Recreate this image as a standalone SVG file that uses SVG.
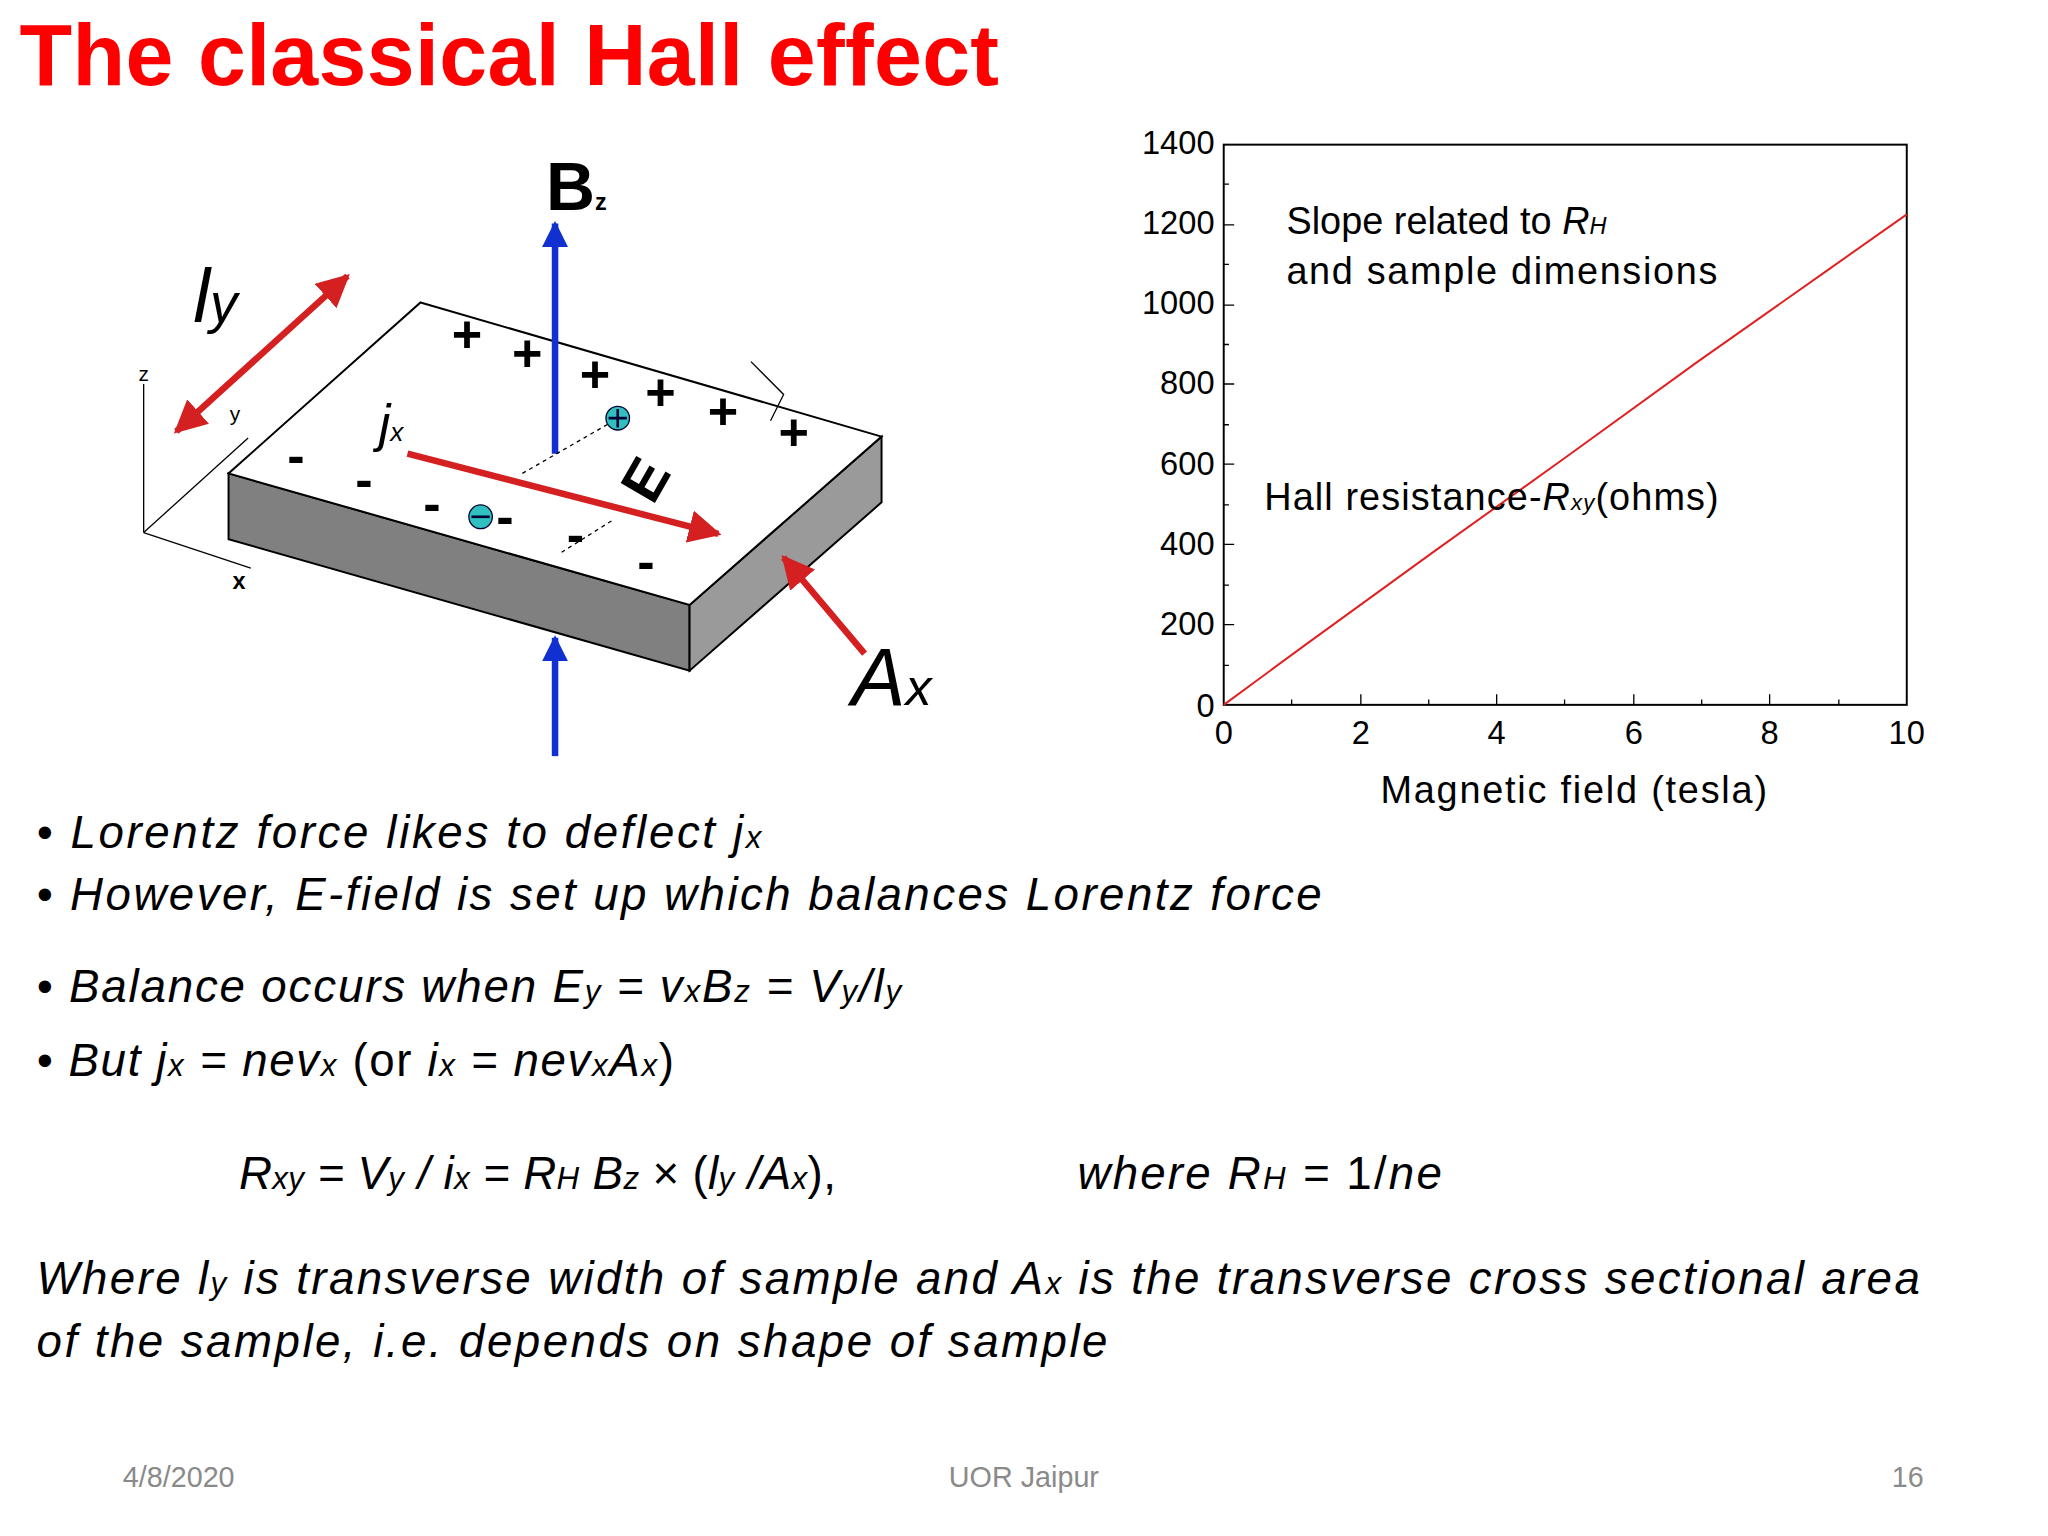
<svg xmlns="http://www.w3.org/2000/svg" width="2048" height="1536" viewBox="0 0 2048 1536">
<style>
.t{font-family:"Liberation Sans",Arial,sans-serif;fill:#000}
.i{font-style:italic}
.ax{font-family:"Liberation Sans",Arial,sans-serif;font-size:25px;fill:#000}
.pm{font-family:"Liberation Sans",Arial,sans-serif;font-size:40px;font-weight:bold;fill:#000}
</style>
<defs>
<marker id="rh" viewBox="0 0 10 10" refX="9" refY="5" markerWidth="5" markerHeight="5" orient="auto-start-reverse"><path d="M0,0L10,5L0,10z" fill="#d42020"/></marker>
<marker id="bh" viewBox="0 0 10 10" refX="9" refY="5" markerWidth="4" markerHeight="5" orient="auto"><path d="M0,0L10,5L0,10z" fill="#1030d0"/></marker>
</defs>
<rect width="2048" height="1536" fill="#fff"/>
<g transform="scale(1.306,1.315)">
<text id="title" x="15" y="65" font-family="Liberation Sans,Arial,sans-serif" font-weight="bold" font-size="66" fill="#ff0000" textLength="750">The classical Hall effect</text>
<g id="sample">
<polygon points="175,360 528,460 528,510 175,410" fill="#808080" stroke="#000" stroke-width="1.5"/>
<polygon points="528,460 675,332 675,382 528,510" fill="#9a9a9a" stroke="#000" stroke-width="1.5"/>
<polygon points="322,230 675,332 528,460 175,360" fill="#fff" stroke="#000" stroke-width="1.5"/>
<line x1="110" y1="405" x2="110" y2="292" stroke="#000"/>
<line x1="110" y1="405" x2="190" y2="333" stroke="#000"/>
<line x1="110" y1="405" x2="192" y2="432" stroke="#000"/>
<text x="106" y="290" font-size="16" class="t">z</text>
<text x="176" y="320" font-size="16" class="t">y</text>
<text x="178" y="448" font-size="18" class="t" font-weight="bold">x</text>
<line x1="425" y1="345" x2="425" y2="170" stroke="#1030d0" stroke-width="5" marker-end="url(#bh)"/>
<line x1="425" y1="575" x2="425" y2="485" stroke="#1030d0" stroke-width="5" marker-end="url(#bh)"/>
<text x="418" y="160" font-family="Liberation Sans,Arial,sans-serif" font-size="52" font-weight="bold">B<tspan font-size="18">z</tspan></text>
<line x1="312" y1="345" x2="550" y2="406" stroke="#d42020" stroke-width="5" marker-end="url(#rh)"/>
<line x1="135" y1="328" x2="266" y2="210" stroke="#d42020" stroke-width="5" marker-start="url(#rh)" marker-end="url(#rh)"/>
<line x1="662" y1="497" x2="600" y2="424" stroke="#d42020" stroke-width="5" marker-end="url(#rh)"/>
<text x="148" y="245" class="t i" font-size="58">l<tspan font-size="42">y</tspan></text>
<text x="652" y="536" class="t i" font-size="62">A<tspan font-size="40">x</tspan></text>
<text x="290" y="335" class="t i" font-size="40">j<tspan font-size="20">x</tspan></text>
<text x="0" y="0" class="t" font-size="44" font-weight="bold" transform="translate(500,385) rotate(-60)">E</text>
<path d="M400,360 L470,320 M430,420 L470,395" stroke="#000" stroke-dasharray="3,3"/>
<path d="M575,275 L600,300 L590,320" stroke="#000" fill="none"/>
<circle cx="473" cy="318" r="9" fill="#30c0c0" stroke="#003"/><path d="M466,318H480M473,311V325" stroke="#003" stroke-width="2"/>
<circle cx="368" cy="393" r="9" fill="#30c0c0" stroke="#003"/><path d="M361,393H375" stroke="#003" stroke-width="2"/>
<text class="pm" x="346" y="268">+</text><text class="pm" x="392" y="282">+</text><text class="pm" x="444" y="298">+</text><text class="pm" x="494" y="312">+</text><text class="pm" x="542" y="326">+</text><text class="pm" x="596" y="342">+</text>
<text class="pm" x="220" y="360">-</text><text class="pm" x="272" y="378">-</text><text class="pm" x="324" y="396">-</text><text class="pm" x="380" y="406">-</text><text class="pm" x="434" y="420">-</text><text class="pm" x="488" y="440">-</text>
</g>
<g id="chart">
<rect x="937" y="110" width="523" height="426" fill="none" stroke="#000" stroke-width="1.5"/>
<g stroke="#000">
<path d="M937,475h8M937,414h8M937,353h8M937,292h8M937,232h8M937,171h8M937,506h4M937,445h4M937,384h4M937,323h4M937,262h4M937,201h4M937,140h4"/>
<path d="M1042,536v-8M1146,536v-8M1251,536v-8M1355,536v-8M989,536v-4M1094,536v-4M1198,536v-4M1303,536v-4M1408,536v-4"/>
</g>
<g class="ax" text-anchor="end">
<text x="930" y="545">0</text><text x="930" y="483">200</text><text x="930" y="422">400</text><text x="930" y="361">600</text><text x="930" y="300">800</text><text x="930" y="239">1000</text><text x="930" y="178">1200</text><text x="930" y="117">1400</text>
</g>
<g class="ax" text-anchor="middle">
<text x="937" y="566">0</text><text x="1042" y="566">2</text><text x="1146" y="566">4</text><text x="1251" y="566">6</text><text x="1355" y="566">8</text><text x="1460" y="566">10</text>
</g>
<path d="M937,536 L1000,490 L1100,418 L1200,347 L1300,275 L1400,205 L1460,163" stroke="#e02020" stroke-width="1.5" fill="none"/>
<text class="t" x="1205" y="611" font-size="29" text-anchor="middle" textLength="296">Magnetic field (tesla)</text>
<text class="t" x="985" y="178" font-size="29">Slope related to <tspan class="i">R</tspan><tspan class="i" font-size="18">H</tspan></text>
<text class="t" x="985" y="216" font-size="29" textLength="330">and sample dimensions</text>
<text class="t" x="968" y="388" font-size="29" textLength="348">Hall resistance-<tspan class="i">R</tspan><tspan class="i" font-size="17">xy</tspan>(ohms)</text>
</g>
<g id="text" class="t i" font-size="35">
<text x="28" y="645" textLength="555">• Lorentz force likes to deflect j<tspan font-size="24">x</tspan></text>
<text x="28" y="692" textLength="984">• However, E-field is set up which balances Lorentz force</text>
<text x="28" y="762" textLength="662">• Balance occurs when E<tspan font-size="24">y</tspan> = v<tspan font-size="24">x</tspan>B<tspan font-size="24">z</tspan> = V<tspan font-size="24">y</tspan>/l<tspan font-size="24">y</tspan></text>
<text x="28" y="818" textLength="488">• But j<tspan font-size="24">x</tspan> = nev<tspan font-size="24">x</tspan> <tspan font-style="normal">(or</tspan> i<tspan font-size="24">x</tspan> = nev<tspan font-size="24">x</tspan>A<tspan font-size="24">x</tspan><tspan font-style="normal">)</tspan></text>
<text x="183" y="904" textLength="457">R<tspan font-size="24">xy</tspan> = V<tspan font-size="24">y</tspan> / i<tspan font-size="24">x</tspan> = R<tspan font-size="24">H</tspan> B<tspan font-size="24">z</tspan> <tspan font-style="normal">× (</tspan>l<tspan font-size="24">y</tspan> /A<tspan font-size="24">x</tspan><tspan font-style="normal">),</tspan></text>
<text x="825" y="904" textLength="279">where R<tspan font-size="24">H</tspan> = <tspan font-style="normal">1/</tspan>ne</text>
<text x="28" y="984" textLength="1442">Where l<tspan font-size="24">y</tspan> is transverse width of sample and A<tspan font-size="24">x</tspan> is the transverse cross sectional area</text>
<text x="28" y="1032" textLength="820">of the sample, i.e. depends on shape of sample</text>
</g>
<g id="footer" font-family="Liberation Sans,Arial,sans-serif" font-size="22" fill="#8a8a8a">
<text x="94" y="1131">4/8/2020</text>
<text x="784" y="1131" text-anchor="middle">UOR Jaipur</text>
<text x="1473" y="1131" text-anchor="end">16</text>
</g>
</g>
</svg>
